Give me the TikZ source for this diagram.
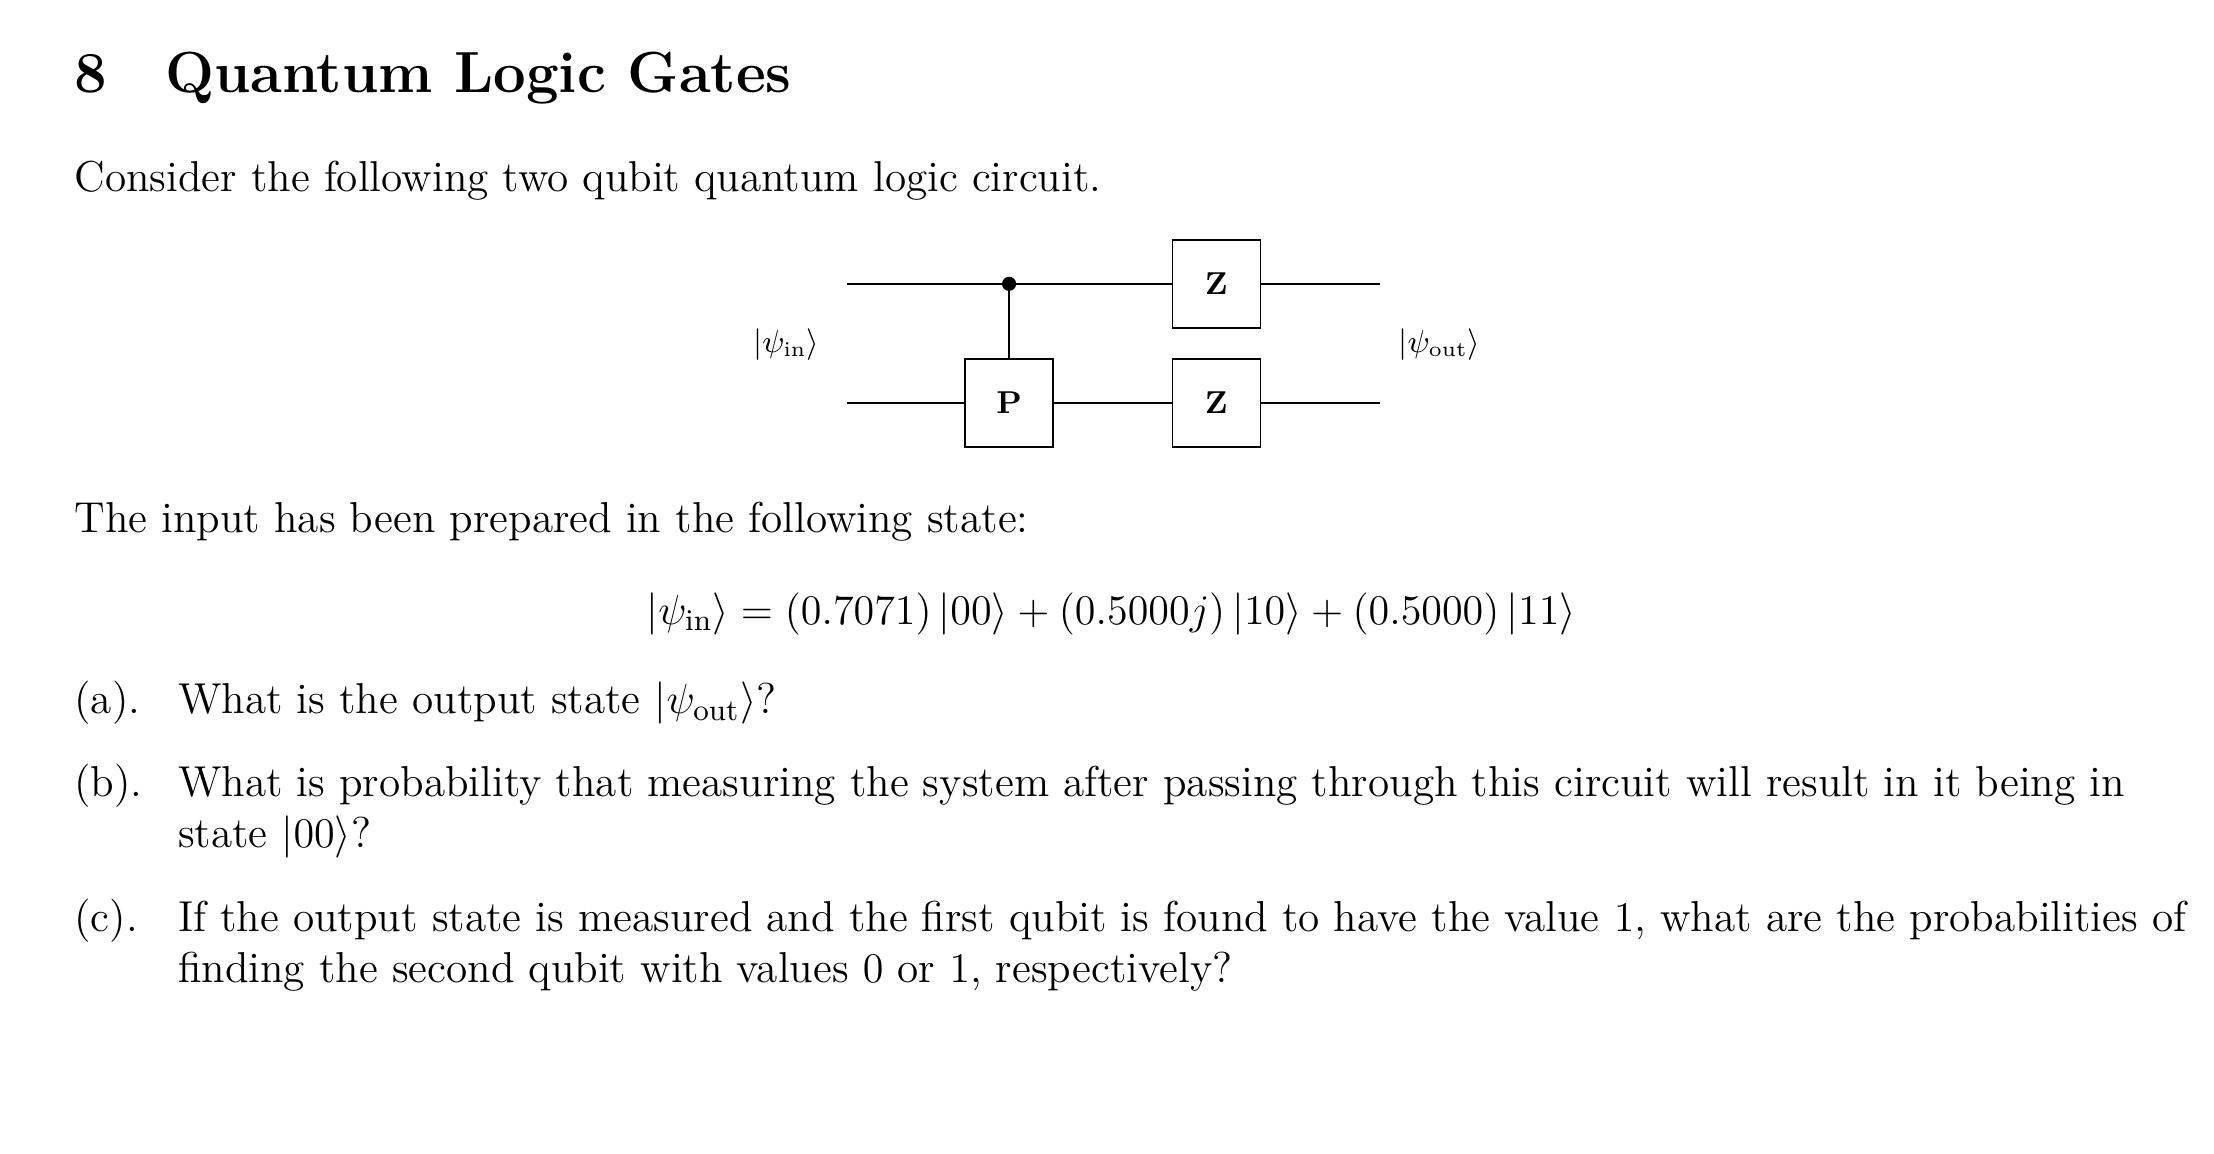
\documentclass[tikz,border=0pt]{standalone}
\usepackage{amsmath}
\tikzset{
  txt/.style={anchor=base west,inner sep=0pt,font=\fontsize{12.3}{15}\selectfont},
  gate/.style={draw,minimum width=62*0.01419cm,minimum height=62*0.01419cm,inner sep=0pt,font=\bfseries\small},
  wire/.style={line width=0.5pt}
}
\begin{document}
\begin{tikzpicture}[x=0.01419cm,y=-0.01419cm]
\useasboundingbox (0,0) rectangle (1560,813);
\node[txt,font=\bfseries\fontsize{16.5}{20}\selectfont] (title) at (52,65) {8\quad Quantum Logic Gates};
\node[txt] (t1) at (52,135) {Consider the following two qubit quantum logic circuit.};
% circuit
\coordinate (a0) at (597,200); \coordinate (a1) at (972,200);
\coordinate (b0) at (597,284); \coordinate (b1) at (972,284);
\node[gate] (P) at (711,284) {P};
\node[gate] (Z1) at (857,200) {Z};
\node[gate] (Z2) at (857,284) {Z};
\draw[wire] (a0) -- (Z1.west) (Z1.east) -- (a1);
\draw[wire] (b0) -- (P.west) (P.east) -- (Z2.west) (Z2.east) -- (b1);
\fill (711,200) circle (5) coordinate (c);
\draw[wire] (c) -- (P.north);
\node[anchor=east,inner sep=0pt,font=\small] (pin) at (578,243) {$|\psi_{\text{in}}\rangle$};
\node[anchor=west,inner sep=0pt,font=\small] (pout) at (985,243) {$|\psi_{\text{out}}\rangle$};
\node[txt] (t2) at (52,375) {The input has been prepared in the following state:};
\node[anchor=base,inner sep=0pt,font=\fontsize{12.3}{15}\selectfont] (eq) at (783,440) {$|\psi_{\text{in}}\rangle = (0.7071)\,|00\rangle + (0.5000j)\,|10\rangle + (0.5000)\,|11\rangle$};
\node[txt] (la) at (52,503) {(a).};
\node[txt] (qa) at (125,503) {What is the output state $|\psi_{\text{out}}\rangle$?};
\node[txt] (lb) at (52,561) {(b).};
\node[txt] (qb) at (125,561) {What is probability that measuring the system after passing through this circuit will result in it being in};
\node[txt] (qb2) at (125,597) {state $|00\rangle$?};
\node[txt] (lc) at (52,656) {(c).};
\node[txt] (qc) at (125,656) {If the output state is measured and the first qubit is found to have the value $1$, what are the probabilities of};
\node[txt] (qc2) at (125,692) {finding the second qubit with values $0$ or $1$, respectively?};
\end{tikzpicture}
\end{document}
